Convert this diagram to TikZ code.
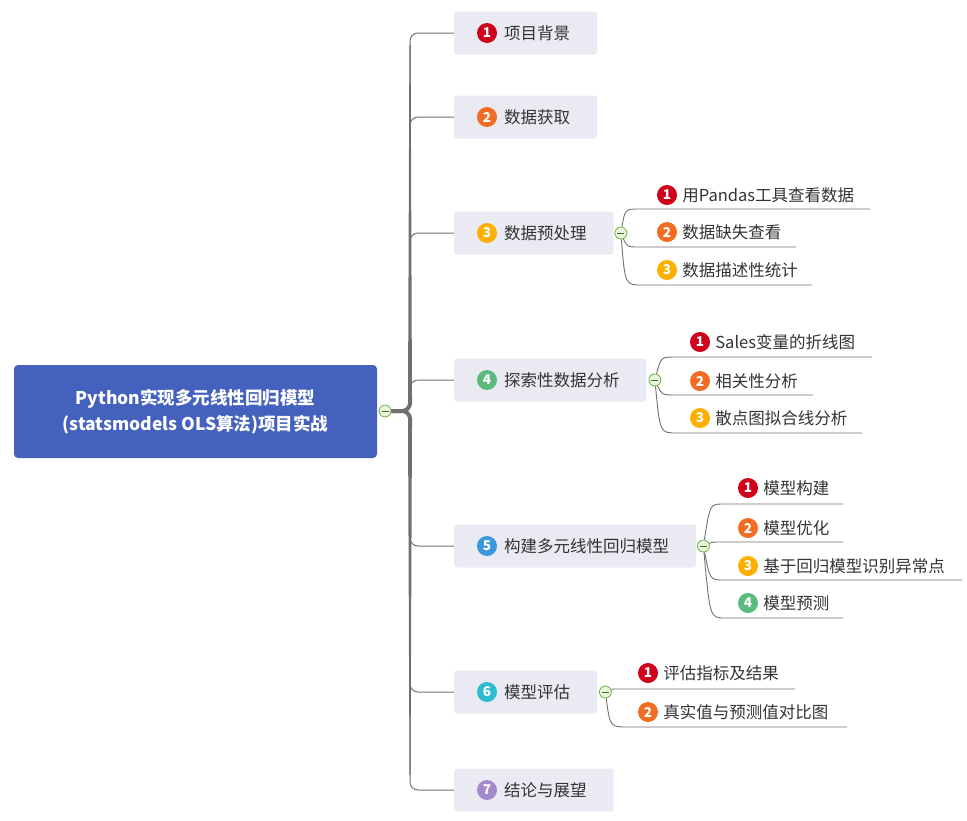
\documentclass[tikz,border=0pt]{standalone}
\usepackage{fontspec}
\setmainfont{Noto Sans CJK SC}
\usepackage{tikz}
\usetikzlibrary{positioning}

\definecolor{rootblue}{HTML}{4461BD}
\definecolor{topicgray}{HTML}{E9EAF2}
\definecolor{inkgray}{HTML}{333333}
\definecolor{linegray}{HTML}{707070}
\definecolor{foldgreen}{HTML}{6DB33F}
\definecolor{foldfill}{HTML}{EAF6DD}
\definecolor{nred}{HTML}{D0011B}
\definecolor{norange}{HTML}{F26C23}
\definecolor{nyellow}{HTML}{FDAF00}
\definecolor{ngreen}{HTML}{5BBA7D}
\definecolor{nblue}{HTML}{3B97DC}
\definecolor{ncyan}{HTML}{2EBCD0}
\definecolor{npurple}{HTML}{A58ACB}

\begin{document}
\begin{tikzpicture}[x=1pt, y=-1pt,
    rootbox/.style={fill=rootblue, rounded corners=4pt, minimum width=363pt, minimum height=93pt,
        align=center, text=white, font=\bfseries\fontsize{17.5}{26}\selectfont},
    topic/.style={anchor=west, fill=topicgray, rounded corners=3pt, minimum height=43pt,
        inner xsep=27pt, inner ysep=0pt, text=inkgray, font=\fontsize{16.5}{20}\selectfont,
        execute at begin node=\hspace*{23pt}},
    badge/.style={circle, minimum size=20pt, inner sep=0pt, text=white,
        font=\bfseries\fontsize{13.5}{13.5}\selectfont},
    item/.style={anchor=west, inner xsep=5pt, text=inkgray, font=\fontsize{16.5}{19}\selectfont},
    fold/.style={circle, draw=foldgreen, fill=foldfill, minimum size=12pt, inner sep=0pt, line width=0.8pt,
        path picture={\draw[foldgreen!60!black, line width=1pt]
            ([xshift=-3.5pt]path picture bounding box.center) -- ([xshift=3.5pt]path picture bounding box.center);}},
    branch/.style={draw=linegray, line width=1pt, rounded corners=8pt},
    twig/.style={draw=linegray, line width=0.9pt}]

    \useasboundingbox (0,0) rectangle (967,820);

    % Root
    \node[rootbox] (root) at (195.5,411.5) {Python实现多元线性回归模型\\(statsmodels OLS算法)项目实战};
    \node[fold] (cr) at (385,411) {};

    % Main topics
    \node[topic] (t1) at (454,33) {项目背景};
    \node[topic] (t2) at (454,117) {数据获取};
    \node[topic] (t3) at (454,233) {数据预处理};
    \node[topic] (t4) at (454,380) {探索性数据分析};
    \node[topic] (t5) at (454,546) {构建多元线性回归模型};
    \node[topic] (t6) at (454,692) {模型评估};
    \node[topic] (t7) at (454,790) {结论与展望};

    % Numbers of main topics
    \node[badge, fill=nred] (b1) at ([xshift=33pt]t1.west) {1};
    \node[badge, fill=norange] (b2) at ([xshift=33pt]t2.west) {2};
    \node[badge, fill=nyellow] (b3) at ([xshift=33pt]t3.west) {3};
    \node[badge, fill=ngreen] (b4) at ([xshift=33pt]t4.west) {4};
    \node[badge, fill=nblue] (b5) at ([xshift=33pt]t5.west) {5};
    \node[badge, fill=ncyan] (b6) at ([xshift=33pt]t6.west) {6};
    \node[badge, fill=npurple] (b7) at ([xshift=33pt]t7.west) {7};

    % Fold buttons
    \node[fold] (c3) at ([xshift=7pt]t3.east) {};
    \node[fold] (c4) at ([xshift=8pt]t4.east) {};
    \node[fold] (c5) at ([xshift=7pt]t5.east) {};
    \node[fold] (c6) at ([xshift=8pt]t6.east) {};

    % Trunk
    \coordinate (trunk) at (410,411);
    \draw[branch] (cr.east) -- (trunk) |- (t1.west);
    \draw[branch] (cr.east) -- (trunk) |- (t2.west);
    \draw[branch] (cr.east) -- (trunk) |- (t3.west);
    \draw[branch] (cr.east) -- (trunk) |- (t4.west);
    \draw[branch] (cr.east) -- (trunk) |- (t5.west);
    \draw[branch] (cr.east) -- (trunk) |- (t6.west);
    \draw[branch] (cr.east) -- (trunk) |- (t7.west);
    % tapering of the trunk
    \fill[linegray] (408,405) -- (412,405) -- (410.6,45) -- (409.4,45) -- cycle;
    \fill[linegray] (408,417) -- (412,417) -- (410.5,775) -- (409.5,775) -- cycle;
    \draw[linegray, line width=4pt, rounded corners=8pt] (cr.east) -- (trunk) -- (410,395);
    \draw[linegray, line width=4pt, rounded corners=8pt] (cr.east) -- (trunk) -- (410,427);

    % Items of 3
    \node[badge, fill=nred] (b31) at (667,195) {1};
    \node[item] (s31) at (b31.east) {用Pandas工具查看数据};
    \node[badge, fill=norange] (b32) at (667,232) {2};
    \node[item] (s32) at (b32.east) {数据缺失查看};
    \node[badge, fill=nyellow] (b33) at (667,270) {3};
    \node[item] (s33) at (b33.east) {数据描述性统计};
    \coordinate (u31) at (870,209);
    \coordinate (u32) at (796,247);
    \coordinate (u33) at (812,285);
    \draw[twig] (c3) .. controls (625,209) .. (640,209) -- (u31);
    \draw[twig] (c3) .. controls (627,247) .. (640,247) -- (u32);
    \draw[twig] (c3) .. controls (625,285) .. (642,285) -- (u33);

    % Items of 4
    \node[badge, fill=nred] (b41) at (700,342) {1};
    \node[item] (s41) at (b41.east) {Sales变量的折线图};
    \node[badge, fill=norange] (b42) at (700,381) {2};
    \node[item] (s42) at (b42.east) {相关性分析};
    \node[badge, fill=nyellow] (b43) at (700,418) {3};
    \node[item] (s43) at (b43.east) {散点图拟合线分析};
    \coordinate (u41) at (872,357);
    \coordinate (u42) at (813,395);
    \coordinate (u43) at (862,433);
    \draw[twig] (c4) .. controls (661,357) .. (676,357) -- (u41);
    \draw[twig] (c4) .. controls (662,395) .. (676,395) -- (u42);
    \draw[twig] (c4) .. controls (660,433) .. (677,433) -- (u43);

    % Items of 5
    \node[badge, fill=nred] (b51) at (748,488) {1};
    \node[item] (s51) at (b51.east) {模型构建};
    \node[badge, fill=norange] (b52) at (748,528) {2};
    \node[item] (s52) at (b52.east) {模型优化};
    \node[badge, fill=nyellow] (b53) at (748,566) {3};
    \node[item] (s53) at (b53.east) {基于回归模型识别异常点};
    \node[badge, fill=ngreen] (b54) at (748,603) {4};
    \node[item] (s54) at (b54.east) {模型预测};
    \coordinate (u51) at (843,504);
    \coordinate (u52) at (843,542);
    \coordinate (u53) at (962,580);
    \coordinate (u54) at (843,618);
    \draw[twig] (c5) .. controls (710,504) .. (723,504) -- (u51);
    \draw[twig] (c5) .. controls (712,542) .. (723,542) -- (u52);
    \draw[twig] (c5) .. controls (710,580) .. (724,580) -- (u53);
    \draw[twig] (c5) .. controls (710,618) .. (725,618) -- (u54);

    % Items of 6
    \node[badge, fill=nred] (b61) at (648,673) {1};
    \node[item] (s61) at (b61.east) {评估指标及结果};
    \node[badge, fill=norange] (b62) at (648,712) {2};
    \node[item] (s62) at (b62.east) {真实值与预测值对比图};
    \coordinate (u61) at (795,689);
    \coordinate (u62) at (847,727);
    \draw[twig] (c6) .. controls (612,689) .. (625,689) -- (u61);
    \draw[twig] (c6) .. controls (610,727) .. (628,727) -- (u62);

\end{tikzpicture}
\end{document}
